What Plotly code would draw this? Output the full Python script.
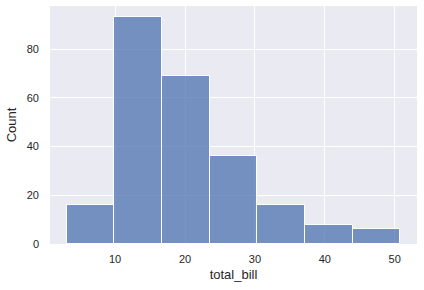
import plotly.graph_objects as go

bin_edges = [3.07, 9.89, 16.71, 23.53, 30.35, 37.17, 43.99, 50.81]
counts = [16, 93, 69, 36, 16, 8, 6]
x_ticks = [10, 20, 30, 40, 50]
y_ticks = [0, 20, 40, 60, 80]

centers = [(a + b) / 2 for a, b in zip(bin_edges[:-1], bin_edges[1:])]
widths = [b - a for a, b in zip(bin_edges[:-1], bin_edges[1:])]

fig = go.Figure(go.Bar(
    x=centers, y=counts, width=widths,
    marker=dict(color="rgba(76,114,176,0.75)", line=dict(color="white", width=1)),
))
span = bin_edges[-1] - bin_edges[0]
fig.update_layout(
    width=424, height=290,
    margin=dict(l=50, r=7, t=6, b=46),
    paper_bgcolor="white", plot_bgcolor="#eaeaf2",
    font=dict(family="Arial, Liberation Sans, sans-serif", size=11, color="#262626"),
    showlegend=False, bargap=0,
)
fig.update_xaxes(range=[bin_edges[0] - 0.05 * span, bin_edges[-1] + 0.05 * span],
                 tickvals=x_ticks, gridcolor="white", gridwidth=1, zeroline=False,
                 showline=False, ticks="", ticklabelstandoff=7,
                 title=dict(text="total_bill", standoff=5))
fig.update_yaxes(range=[0, max(counts) * 1.05], tickvals=y_ticks, gridcolor="white",
                 gridwidth=1, zeroline=False, showline=False, ticks="",
                 ticklabelstandoff=10, title=dict(text="Count", standoff=7))
fig.write_html("out.html")
